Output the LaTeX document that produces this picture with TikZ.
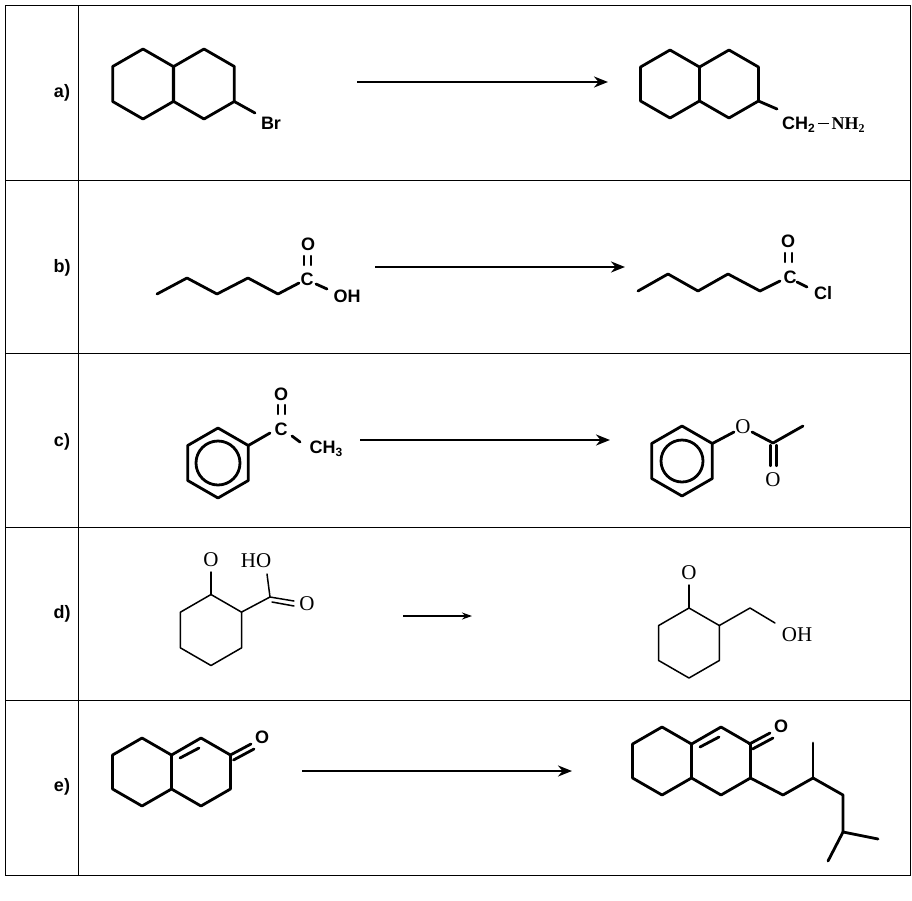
\documentclass[tikz,border=0pt]{standalone}
\usepackage{fontspec}
\setmainfont{Liberation Serif}
\setsansfont{Liberation Sans}
\usetikzlibrary{arrows.meta}
\newcommand{\sbs}[1]{\raisebox{-0.35ex}{\fontsize{12}{12}\selectfont #1}}
\begin{document}
\begin{tikzpicture}[x=1pt,y=-1pt,
  bond/.style={line width=2.8pt,line join=round,line cap=round},
  tbond/.style={line width=1.5pt,line join=round,line cap=round},
  grid/.style={line width=1pt},
  lab/.style={font=\sffamily\bfseries\fontsize{18}{20}\selectfont,inner sep=0pt},
  atm/.style={font=\sffamily\bfseries\fontsize{18}{20}\selectfont,inner sep=0pt},
  satm/.style={font=\rmfamily\fontsize{21}{23}\selectfont,inner sep=0pt},
  rxn/.style={line width=2.8pt,-{Stealth[length=14pt,width=11pt]}},
  trxn/.style={line width=1.3pt,-{Stealth[length=10pt,width=7pt]}}]
\useasboundingbox (0,0) rectangle (912,900);
% table
\draw[grid] (5,5) rectangle (910.5,875);
\draw[grid] (78,5) -- (78,875);
\foreach \yy in {180,353,527,700} \draw[grid] (5,\yy) -- (910.5,\yy);
\node[lab] (la) at (62,93) {a)};
\node[lab] (lb) at (62,268) {b)};
\node[lab] (lc) at (62,442) {c)};
\node[lab] (ld) at (62,614) {d)};
\node[lab] (le) at (62,787) {e)};
% ---- a left
\draw[bond] (143,84) +(90:35) -- +(30:35) -- +(-30:35) -- +(-90:35) -- +(-150:35) -- +(150:35) -- cycle;
\draw[bond] (204,84) +(90:35) -- +(30:35) -- +(-30:35) -- +(-90:35) -- +(-150:35) -- +(150:35) -- cycle;
\draw[bond] (234.3,101.5) -- (255,113);
\node[atm] (br) at (271,123) {Br};
\coordinate (a1) at (357,82); \coordinate (a2) at (608,82);
\draw[rxn] (a1) -- (a2);
% ---- a right
\draw[bond] (670,84) +(90:34) -- +(30:34) -- +(-30:34) -- +(-90:34) -- +(-150:34) -- +(150:34) -- cycle;
\draw[bond] (729,84) +(90:34) -- +(30:34) -- +(-30:34) -- +(-90:34) -- +(-150:34) -- +(150:34) -- cycle;
\draw[bond] (758.4,101) -- (777,109);
\node[inner sep=0pt,anchor=west] (ch2nh2) at (782,125) {\sffamily\bfseries\fontsize{18}{20}\selectfont CH\sbs{2}\,\rule[0.3em]{0.6em}{1.4pt}\,{\rmfamily NH\sbs{2}}};
% ---- b left
\draw[bond] (157,294) -- (187,278) -- (217,294) -- (248,278) -- (278,294) -- (299,283);
\node[atm] (bc1) at (307,279) {C};
\node[atm] (bo1) at (308,244) {O};
\draw[bond,line width=2.2pt] (304,256) -- (304,265) (311,256) -- (311,265);
\draw[bond] (316,284) -- (327,289);
\node[atm] (boh) at (347,296) {OH};
\coordinate (b1) at (375,267); \coordinate (b2) at (625,267);
\draw[rxn] (b1) -- (b2);
% ---- b right
\draw[bond] (638,291) -- (668,274) -- (698,291) -- (728,274) -- (760,291) -- (780,281);
\node[atm] (bc2) at (790,277) {C};
\node[atm] (bo2) at (788,241) {O};
\draw[bond,line width=2.2pt] (785,253) -- (785,262) (792,253) -- (792,262);
\draw[bond] (797,282) -- (807,287);
\node[atm] (bcl) at (823,293) {Cl};
% ---- c left
\draw[bond] (218,463) +(90:35) -- +(30:35) -- +(-30:35) -- +(-90:35) -- +(-150:35) -- +(150:35) -- cycle;
\draw[bond] (218,463) circle (22);
\draw[bond] (248.3,445.5) -- (270,433);
\node[atm] (cc) at (281,429) {C};
\node[atm] (co) at (281,394) {O};
\draw[bond,line width=2.2pt] (278,405) -- (278,414) (285,405) -- (285,414);
\draw[bond] (292,436) -- (300,442);
\node[atm] (cch3) at (326,449) {CH\sbs{3}};
\coordinate (c1) at (360,440); \coordinate (c2) at (610,440);
\draw[rxn] (c1) -- (c2);
% ---- c right
\draw[bond] (682,461) +(90:35) -- +(30:35) -- +(-30:35) -- +(-90:35) -- +(-150:35) -- +(150:35) -- cycle;
\draw[bond] (682,461) circle (21);
\draw[bond] (712.3,443.5) -- (734,432);
\node[satm] (co2) at (743,427) {O};
\draw[bond] (752,432) -- (773,443) -- (803,426);
\draw[bond,line width=2.2pt] (770.5,445) -- (770.5,466) (776.5,445) -- (776.5,466);
\node[satm] (co3) at (773,480) {O};
% ---- d left
\draw[tbond] (211,630) +(90:35.5) -- +(30:35.5) -- +(-30:35.5) -- +(-90:35.5) -- +(-150:35.5) -- +(150:35.5) -- cycle;
\draw[tbond] (211,594.5) -- (211,572);
\node[satm] (do1) at (211,560) {O};
\draw[tbond] (241.7,612) -- (270,597) -- (267,574);
\node[satm] (dho) at (256,561) {HO};
\draw[tbond] (270,597) -- (294,601) (272,602) -- (294,606);
\node[satm] (do2) at (307,604) {O};
\coordinate (d1) at (403,616); \coordinate (d2) at (472,616);
\draw[trxn] (d1) -- (d2);
% ---- d right
\draw[tbond] (689,643) +(90:35) -- +(30:35) -- +(-30:35) -- +(-90:35) -- +(-150:35) -- +(150:35) -- cycle;
\draw[tbond] (689,608) -- (689,585);
\node[satm] (do3) at (689,573) {O};
\draw[tbond] (719.3,625.5) -- (750,608) -- (775,623);
\node[satm] (doh) at (797,635) {OH};
% ---- e left
\draw[bond] (142,772) +(90:34) -- +(30:34) -- +(-30:34) -- +(-90:34) -- +(-150:34) -- +(150:34) -- cycle;
\draw[bond] (201,772) +(90:34) -- +(30:34) -- +(-30:34) -- +(-90:34) -- +(-150:34) -- +(150:34) -- cycle;
\draw[bond] (180,758) -- (199,748);
\draw[bond] (230.4,755) -- (251,744) (233.5,760) -- (254,749);
\node[atm] (eo1) at (262,737) {O};
\coordinate (e1) at (302,771); \coordinate (e2) at (572,771);
\draw[rxn] (e1) -- (e2);
% ---- e right
\draw[bond] (662,761) +(90:34) -- +(30:34) -- +(-30:34) -- +(-90:34) -- +(-150:34) -- +(150:34) -- cycle;
\draw[bond] (721,761) +(90:34) -- +(30:34) -- +(-30:34) -- +(-90:34) -- +(-150:34) -- +(150:34) -- cycle;
\draw[bond] (700,747) -- (719,737);
\draw[bond] (749.4,744) -- (770,733) (752.5,749) -- (773,738);
\node[atm] (eo2) at (781,726) {O};
\draw[bond] (750.4,778) -- (783,795) -- (813,778) -- (843,795) -- (843,832) -- (878,839);
\draw[bond] (813,778) -- (813,743);
\draw[bond] (843,832) -- (828,861);
\end{tikzpicture}
\end{document}
